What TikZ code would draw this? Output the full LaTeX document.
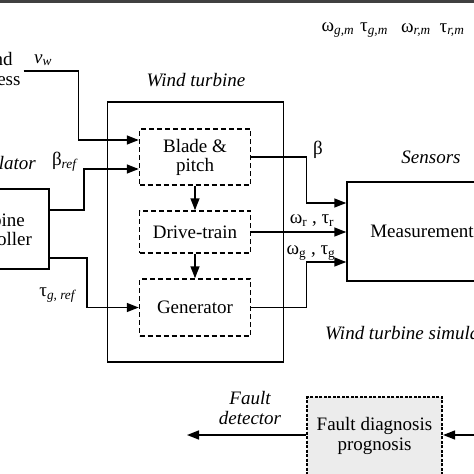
\documentclass[tikz,border=0pt]{standalone}
\usepackage{fontspec}
\setmainfont{Liberation Serif}
\usetikzlibrary{positioning,calc,arrows.meta}

\tikzset{
  blk/.style={draw, line width=1.5pt, inner sep=0pt, align=center},
  dblk/.style={blk, dash pattern=on 5pt off 3pt},
  fblk/.style={blk, fill=gray!15, line width=2.2pt, dash pattern=on 3pt off 1.5pt},
  arr/.style={line width=1.5pt, -{Triangle[length=12pt,width=9pt]}},
  lbl/.style={font=\fontsize{19}{21}\itshape, align=center, inner sep=0pt}
}

\begin{document}
\begin{tikzpicture}[x=1pt, y=-1pt, font=\fontsize{19}{21}\selectfont]
    \useasboundingbox (0,0) rectangle (474,474);
    \clip (0,0) rectangle (474,474);
    \fill[black!75] (0,0) rectangle (474,2.5);

    \node[blk, minimum width=176, minimum height=260] (turbine) at (195.5,232) {};
    \node[dblk, minimum width=111, minimum height=56] (blade) at (195,157) {Blade \&\\[-2pt]pitch};
    \node[dblk, minimum width=111, minimum height=42] (drive) at (195,232) {Drive-train};
    \node[dblk, minimum width=111, minimum height=57] (gen) at (195,307.5) {Generator};
    \node[blk, minimum width=108, minimum height=80] (ctrl) at (-5,229) {Turbine\\[-2pt]controller};
    \node[blk, minimum width=150, minimum height=99] (meas) at (422,231.5) {Measurement};
    \node[fblk, minimum width=135, minimum height=78] (fdp) at (374.5,436) {Fault diagnosis\\[-1pt]prognosis};
    \node[align=center, inner sep=3pt] (wind) at (-8,71) {Wind\\[-1pt]process};
    \coordinate (fout) at (187,435);
    \coordinate (fin) at (480,435);

    \draw[arr] (wind.east) -- ++(55,0) |- ([yshift=17pt]blade.west);
    \draw[arr] ([yshift=19pt]ctrl.east) -- ++(34,0) |- ([yshift=-12pt]blade.west);
    \draw[arr] ([yshift=-29pt]ctrl.east) -- ++(37,0) |- (gen.west);
    \draw[arr] (blade.south) -- (drive.north);
    \draw[arr] (drive.south) -- (gen.north);
    \draw[arr] (blade.east) -- ++(55,0) |- ([yshift=28.5pt]meas.west);
    \draw[arr] (drive.east) -- (drive.east -| meas.west);
    \draw[arr] (gen.east) -- ++(55,0) |- ([yshift=-30.5pt]meas.west);
    \draw[arr] (fdp.west |- fout) -- (fout);
    \draw[arr] (fin) -- (fin -| fdp.east);

    \node[lbl] (tlbl) at (196,80) {Wind turbine};
    \node[lbl, anchor=east] (rlbl) at (36,165) {Regulator};
    \node[lbl] (slbl) at (431,157) {Sensors};
    \node[lbl, anchor=west] (simlbl) at (325,333) {Wind turbine simulator};
    \node[lbl] (flbl) at (250,408) {Fault\\[-1pt]detector};
    \node[inner sep=0pt] (vw) at (43,60) {\textit{v}\textsubscript{\textit{w}}};
    \node[inner sep=0pt] (bref) at (65,162) {β\textsubscript{\textit{ref}}};
    \node[inner sep=0pt] (tref) at (58,295) {τ\textsubscript{\textit{g, ref}}};
    \node[inner sep=0pt] (beta) at (318,150) {β};
    \node[inner sep=0pt] (wr) at (312,221) {ω\textsubscript{r} , τ\textsubscript{r}};
    \node[inner sep=0pt] (wg) at (311,253) {ω\textsubscript{g} , τ\textsubscript{g}};
    \node[inner sep=0pt] (meas1) at (338,30) {ω\textsubscript{\textit{g,m}}};
    \node[inner sep=0pt] (meas2) at (374,30) {τ\textsubscript{\textit{g,m}}};
    \node[inner sep=0pt] (meas3) at (416,30) {ω\textsubscript{\textit{r,m}}};
    \node[inner sep=0pt] (meas4) at (452,30) {τ\textsubscript{\textit{r,m}}};
\end{tikzpicture}
\end{document}
